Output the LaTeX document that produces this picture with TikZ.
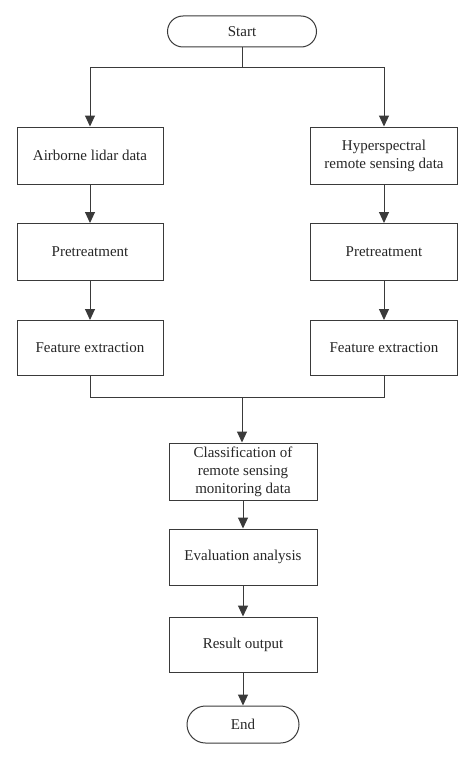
\documentclass[tikz,border=0pt]{standalone}
\usepackage{fontspec}
\setmainfont{Liberation Serif}
\usetikzlibrary{arrows.meta,shapes.misc}
\definecolor{ln}{HTML}{3A3A3A}
\definecolor{tx}{HTML}{262626}
\begin{document}
\begin{tikzpicture}[x=1pt,y=-1pt,
  box/.style={draw=ln,line width=1pt,rectangle,minimum width=146pt,minimum height=56pt,align=center,font=\fontsize{15}{18}\selectfont,text=tx,inner sep=0pt},
  term/.style={draw=ln,line width=1pt,rounded rectangle,minimum height=31pt,align=center,font=\fontsize{15}{18}\selectfont,text=tx,inner sep=0pt},
  conn/.style={draw=ln,line width=1pt},
  arr/.style={conn,-{Triangle[width=10pt,length=11pt]}}]
\useasboundingbox (0,0) rectangle (474,760);
\node[term,minimum width=149pt] (start) at (242,31.5) {Start};
\node[box,minimum height=57pt] (a1) at (90,155.5) {Airborne lidar data};
\node[box,minimum width=147pt,minimum height=57pt] (b1) at (384,155.5) {Hyperspectral\\remote sensing data};
\node[box,minimum height=57pt] (a2) at (90,252) {Pretreatment};
\node[box,minimum width=147pt,minimum height=57pt] (b2) at (384,252) {Pretreatment};
\node[box,minimum height=55pt] (a3) at (90,348) {Feature extraction};
\node[box,minimum width=147pt,minimum height=55pt] (b3) at (384,348) {Feature extraction};
\node[box,minimum width=148pt,minimum height=57pt] (c1) at (243,471.5) {Classification of\\remote sensing\\monitoring data};
\node[box,minimum width=148pt] (c2) at (243,557) {Evaluation analysis};
\node[box,minimum width=148pt,minimum height=55pt] (c3) at (243,644.5) {Result output};
\node[term,minimum width=112pt,minimum height=37pt] (end) at (243,724.5) {End};
\coordinate (s1) at (242,68);
\coordinate (m1) at (242,397);
\draw[conn] (start.south) -- (s1);
\draw[arr] (s1) -| (a1.north);
\draw[arr] (s1) -| (b1.north);
\draw[arr] (a1) -- (a2);
\draw[arr] (b1) -- (b2);
\draw[arr] (a2) -- (a3);
\draw[arr] (b2) -- (b3);
\draw[conn] (a3.south) |- (m1);
\draw[conn] (b3.south) |- (m1);
\draw[arr] (m1) -- (m1 |- c1.north);
\draw[arr] (c1) -- (c2);
\draw[arr] (c2) -- (c3);
\draw[arr] (c3) -- (end);
\end{tikzpicture}
\end{document}
